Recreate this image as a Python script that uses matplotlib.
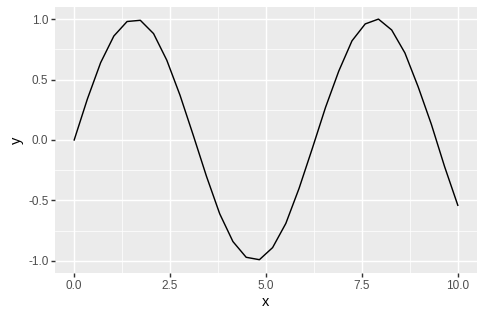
import matplotlib
matplotlib.use("Agg")
import matplotlib.pyplot as plt

# values
x_vals = [0.0, 0.345, 0.690, 1.034, 1.379, 1.724, 2.069, 2.414, 2.759, 3.103,
          3.448, 3.793, 4.138, 4.483, 4.828, 5.172, 5.517, 5.862, 6.207, 6.552,
          6.897, 7.241, 7.586, 7.931, 8.276, 8.621, 8.966, 9.310, 9.655, 10.0]
y_vals = [0.00, 0.34, 0.64, 0.86, 0.98, 0.99, 0.88, 0.66, 0.37, 0.04,
          -0.30, -0.61, -0.84, -0.97, -0.99, -0.89, -0.69, -0.40, -0.07, 0.27,
          0.57, 0.82, 0.96, 1.00, 0.91, 0.72, 0.44, 0.13, -0.22, -0.54]

x_ticks = [0.0, 2.5, 5.0, 7.5, 10.0]
x_labels = ["0.0", "2.5", "5.0", "7.5", "10.0"]
y_ticks = [-1.0, -0.5, 0.0, 0.5, 1.0]
y_labels = ["-1.0", "-0.5", "0.0", "0.5", "1.0"]

plt.rcParams['font.family'] = ['Liberation Sans', 'DejaVu Sans']

fig = plt.figure(figsize=(484 / 96, 316 / 96), dpi=96)
ax = fig.add_axes([55 / 484, 1 - 273 / 316, 422 / 484, 266 / 316])
ax.set_facecolor("#EBEBEB")

ax.plot(x_vals, y_vals, color="black", lw=1.07, zorder=3)

ax.set_xlim(-0.5, 10.5)
ax.set_ylim(-1.1, 1.1)
ax.set_xticks(x_ticks)
ax.set_xticklabels(x_labels)
ax.set_yticks(y_ticks)
ax.set_yticklabels(y_labels)
ax.set_xticks([1.25, 3.75, 6.25, 8.75], minor=True)
ax.set_yticks([-0.75, -0.25, 0.25, 0.75], minor=True)

ax.grid(which="major", color="white", lw=1.07)
ax.grid(which="minor", color="white", lw=0.53)
ax.set_axisbelow(True)
for s in ax.spines.values():
    s.set_visible(False)

ax.tick_params(which="major", length=2.75, width=1.07, color="#333333",
               labelsize=8.8, labelcolor="#4D4D4D", pad=2.2)
ax.tick_params(which="minor", length=0)

ax.set_xlabel("x", fontsize=11, labelpad=2.75)
ax.set_ylabel("y", fontsize=11, labelpad=2.75)

fig.savefig("out.png", dpi=96)
